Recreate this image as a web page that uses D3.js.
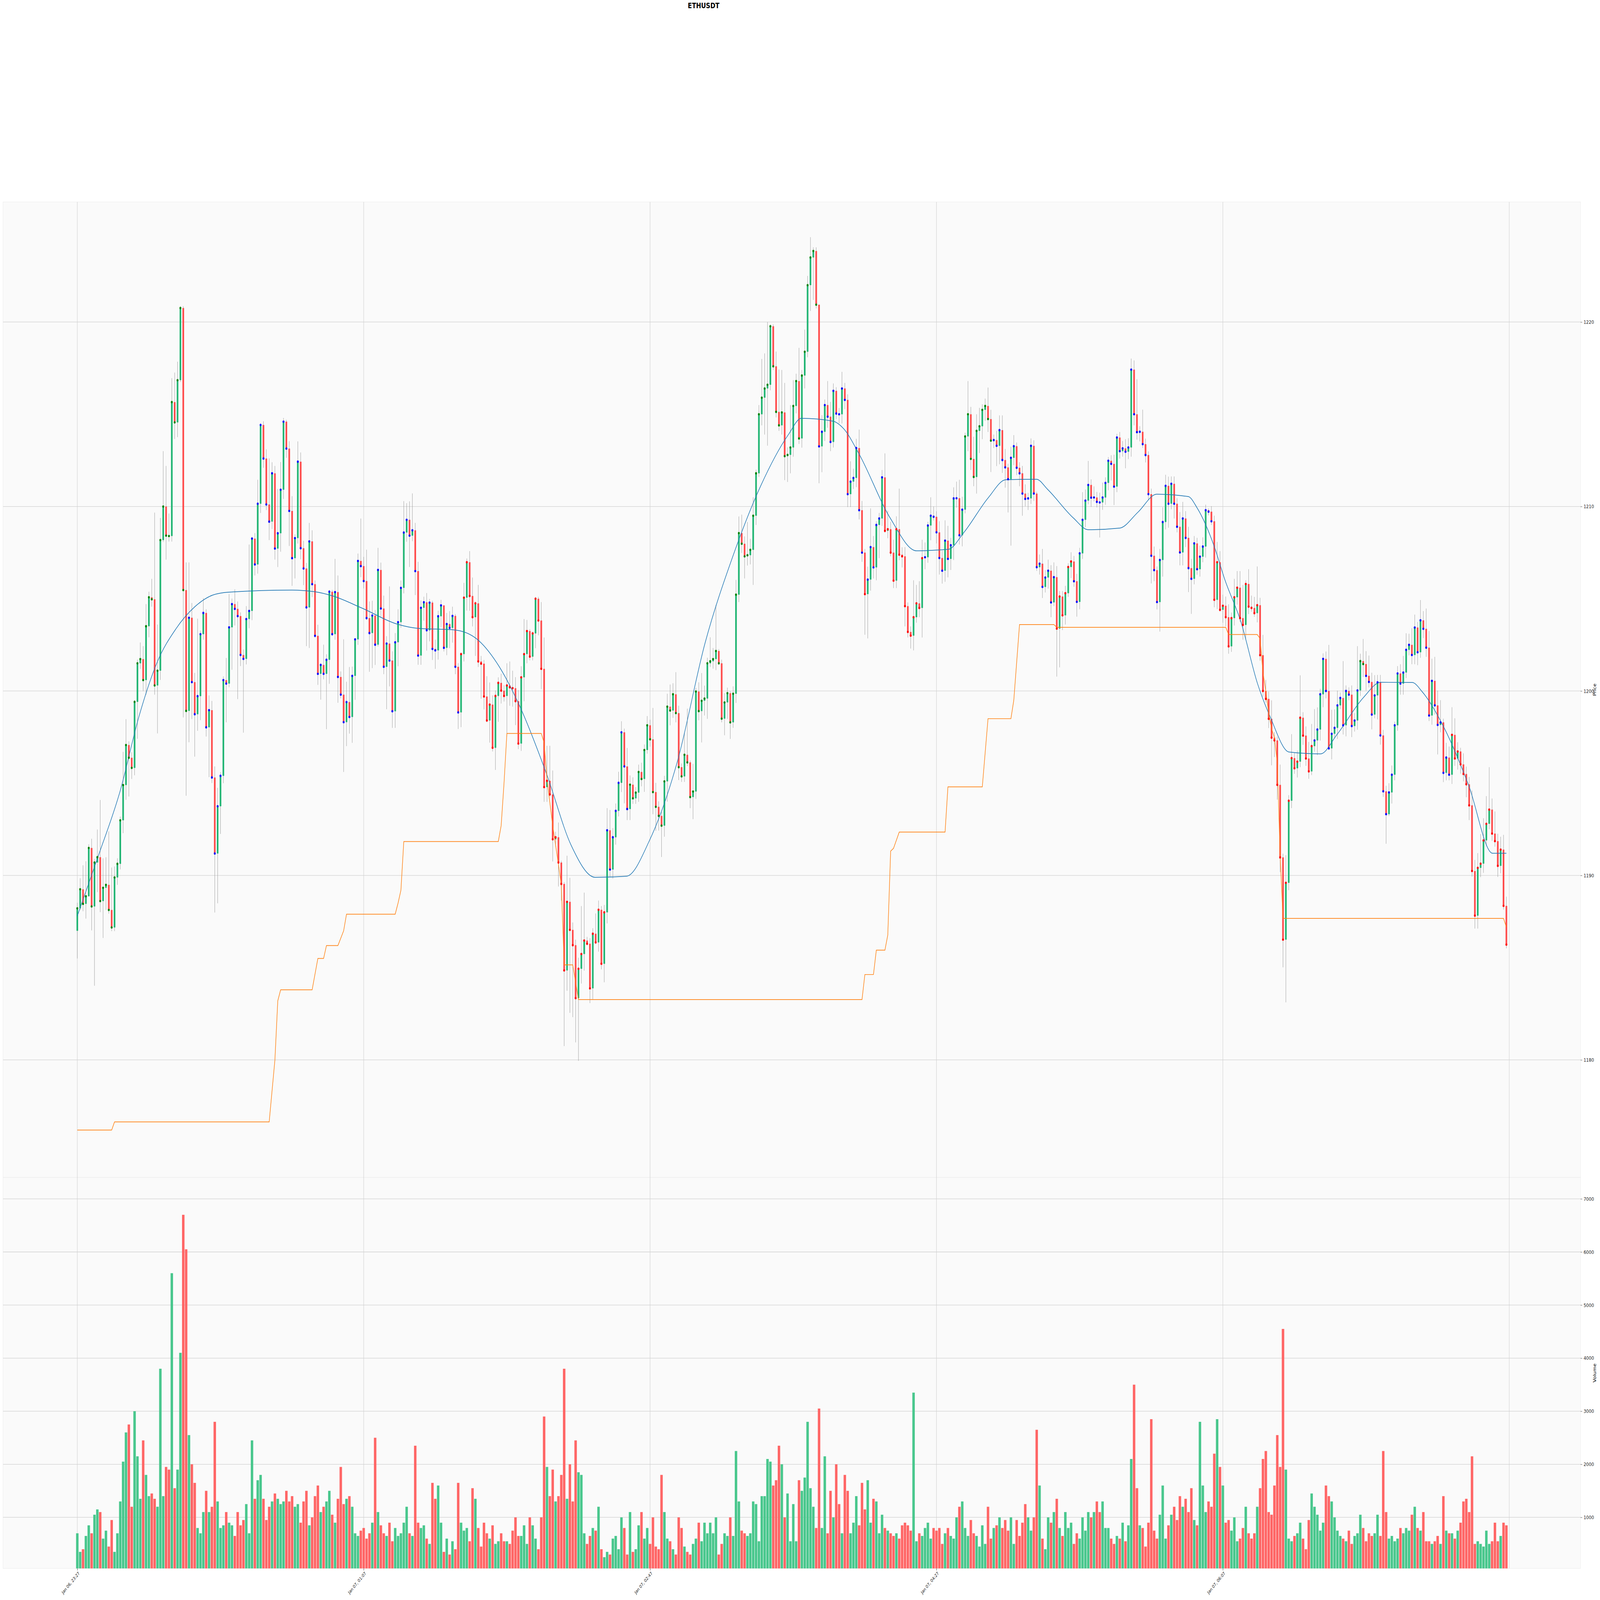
<!DOCTYPE html>
<html><head><meta charset="utf-8">
<script src="https://cdn.jsdelivr.net/npm/d3@7"></script>
<style>html,body{margin:0;padding:0;background:#fff;width:100%;height:100%;overflow:hidden}svg{display:block;font-family:"DejaVu Sans",sans-serif;width:100vw;height:100vh}</style>
</head><body>
<script>
const title = "ETHUSDT";
const firstOpen = 1187.0;
const closes = [
1188.22,1189.25,1188.46,1188.87,1191.49,1188.32,1190.70,1190.99,1188.61,1189.33,
1189.49,1188.13,1187.18,1189.89,1190.63,1192.99,1194.90,1197.07,1196.38,1195.83,
1199.41,1201.50,1201.73,1200.59,1203.51,1205.08,1204.97,1200.30,1201.10,1208.18,
1210.00,1208.42,1208.40,1215.66,1214.56,1216.85,1220.76,1205.47,1198.92,1203.97,
1200.48,1198.74,1199.72,1203.08,1204.23,1198.03,1198.96,1195.31,1191.19,1193.75,
1195.40,1200.59,1200.40,1203.45,1204.71,1204.45,1204.06,1201.95,1201.74,1203.90,
1204.34,1208.26,1206.86,1210.15,1214.42,1212.60,1210.11,1209.18,1211.80,1207.72,
1208.55,1210.91,1214.60,1213.14,1209.76,1207.20,1208.29,1212.43,1207.74,1206.64,
1204.53,1208.11,1205.79,1202.99,1200.93,1201.41,1200.93,1201.69,1205.38,1203.08,
1205.36,1200.76,1199.80,1198.31,1199.40,1198.59,1200.82,1202.80,1207.05,1206.77,
1205.96,1203.95,1203.14,1204.09,1202.51,1206.56,1204.47,1201.31,1202.57,1201.65,
1198.90,1202.64,1203.73,1205.59,1208.59,1209.28,1208.42,1208.71,1206.50,1201.92,
1204.51,1204.81,1203.29,1204.79,1202.28,1202.20,1204.05,1204.64,1202.34,1203.63,
1203.42,1204.07,1201.31,1198.84,1202.00,1205.06,1206.98,1205.15,1204.00,1204.75,
1201.60,1201.48,1199.70,1198.40,1199.26,1196.92,1199.73,1200.44,1200.02,1199.73,
1200.30,1200.20,1200.15,1199.45,1197.15,1200.74,1202.00,1203.25,1201.86,1203.12,
1205.00,1203.82,1201.20,1194.79,1195.13,1194.39,1191.96,1192.07,1190.70,1189.54,
1184.85,1188.57,1187.05,1186.22,1183.35,1184.94,1185.74,1186.47,1186.30,1183.88,
1186.84,1186.37,1188.14,1185.21,1188.00,1192.45,1190.32,1192.07,1193.50,1195.02,
1197.76,1195.91,1193.60,1194.92,1194.18,1194.49,1195.61,1195.23,1196.80,1198.14,
1197.38,1194.52,1193.72,1193.23,1192.70,1195.10,1199.15,1198.94,1199.82,1198.80,
1195.87,1195.37,1196.54,1196.13,1194.25,1194.55,1199.97,1198.91,1199.47,1199.59,
1201.50,1201.61,1201.73,1202.17,1201.50,1198.50,1199.38,1199.88,1198.30,1199.85,
1205.22,1208.56,1207.98,1207.30,1207.36,1207.65,1209.50,1211.80,1215.00,1215.90,
1216.40,1216.60,1219.77,1217.60,1215.13,1214.40,1215.10,1212.73,1212.80,1213.20,
1215.45,1216.80,1213.69,1217.10,1218.39,1222.00,1223.50,1223.85,1220.94,1213.26,
1214.05,1215.50,1214.87,1213.50,1216.27,1215.04,1215.00,1216.40,1215.78,1210.67,
1211.35,1211.55,1213.17,1209.80,1207.50,1205.25,1206.04,1207.80,1206.70,1209.00,
1209.35,1211.58,1208.68,1208.77,1207.50,1205.98,1208.77,1207.39,1207.30,1204.60,
1203.20,1203.00,1204.00,1204.75,1204.50,1207.20,1207.25,1208.97,1209.50,1209.44,
1208.60,1207.21,1206.52,1208.15,1207.16,1207.90,1210.44,1210.45,1208.44,1209.83,
1213.80,1215.00,1212.58,1211.60,1214.10,1214.35,1215.24,1215.45,1214.74,1213.57,
1213.60,1213.29,1214.14,1212.52,1212.12,1211.48,1212.64,1213.27,1212.10,1211.80,
1210.70,1210.41,1210.44,1213.29,1210.70,1206.71,1206.90,1205.64,1206.15,1206.52,
1204.80,1206.17,1203.38,1205.12,1204.10,1205.30,1206.72,1207.02,1205.95,1204.83,
1207.46,1209.28,1210.32,1211.17,1210.48,1210.49,1210.25,1210.22,1210.49,1211.28,
1212.48,1212.31,1211.08,1213.74,1213.00,1213.15,1212.97,1213.20,1217.42,1215.00,
1214.03,1214.05,1213.38,1212.79,1210.67,1207.33,1206.55,1204.82,1207.10,1209.16,
1211.12,1210.15,1211.23,1210.15,1208.90,1207.51,1209.35,1208.30,1206.66,1206.08,
1208.00,1206.60,1207.28,1207.83,1209.80,1209.72,1209.20,1204.94,1206.98,1204.40,
1204.62,1204.00,1202.42,1203.95,1205.08,1205.60,1203.95,1203.58,1205.80,1204.57,
1204.50,1204.22,1204.65,1201.94,1200.00,1199.57,1198.49,1197.47,1197.32,1194.91,
1190.98,1186.52,1189.60,1194.05,1196.36,1195.81,1196.17,1198.55,1197.58,1196.34,
1195.64,1197.01,1197.32,1197.91,1199.82,1201.74,1200.00,1196.89,1197.68,1198.00,
1199.22,1199.62,1198.14,1200.00,1199.80,1198.10,1198.40,1200.03,1201.62,1201.46,
1200.82,1200.49,1198.72,1199.76,1200.47,1197.59,1194.56,1193.32,1194.50,1195.46,
1198.14,1200.95,1200.40,1201.00,1202.23,1202.50,1201.95,1203.44,1202.10,1203.83,
1203.37,1202.35,1198.67,1200.55,1199.22,1198.16,1198.30,1195.56,1196.39,1195.46,
1197.62,1196.34,1196.72,1196.02,1195.50,1194.94,1193.80,1190.24,1187.82,1190.41,
1190.64,1191.90,1192.80,1193.57,1192.27,1191.86,1190.52,1191.40,1188.35,1186.25];
const upperWick = [
0.3,0.6,1.3,1.9,0.2,0.5,0.2,1.5,3.1,1.6, 1.5,2.9,2.3,0.6,0.3,0.2,1.8,1.4,0.2,0.3,
0.1,0.2,0.9,0.7,1.2,0.3,1.0,4.7,2.5,1.2, 3.0,2.2,1.2,1.3,1.6,1.0,0.1,0.1,1.5,3.0,
0.8,0.5,4.2,0.2,0.8,0.2,0.8,0.5,0.6,1.0, 0.2,0.2,1.2,1.8,0.3,0.8,0.4,0.2,0.3,0.7,
3.6,0.1,0.3,1.3,0.1,0.2,0.5,2.5,0.6,0.4, 2.4,1.5,0.2,0.1,0.4,0.8,0.2,1.1,0.5,0.4,
0.3,1.0,0.6,0.2,0.6,0.1,1.1,0.3,0.1,0.1, 1.8,0.9,0.3,3.0,1.1,1.9,0.5,0.0,0.4,2.3,
0.5,1.7,0.9,0.8,0.3,1.2,0.4,0.7,0.4,3.1, 0.5,0.5,0.7,0.4,1.7,0.9,1.0,2.0,0.4,0.5,
0.4,0.3,0.5,0.2,0.1,0.5,0.3,0.3,0.0,0.6, 0.7,0.5,0.1,0.2,0.1,0.8,0.2,0.6,1.0,0.1,
1.0,0.3,0.2,1.1,1.2,0.5,0.3,0.3,0.5,0.3, 1.2,1.3,0.9,0.6,0.6,0.6,1.9,0.6,0.1,0.1,
0.1,0.1,1.0,1.7,1.9,1.9,1.3,0.3,0.8,0.1, 0.1,2.5,1.3,0.4,0.3,0.6,2.6,2.6,0.2,0.3,
0.3,1.1,0.5,0.2,0.4,1.2,1.1,0.5,0.4,0.6, 0.6,0.2,1.0,0.5,0.4,0.3,0.4,0.5,0.3,0.5,
0.3,1.7,0.5,0.3,0.2,0.3,0.7,1.2,0.6,1.2, 0.4,0.2,1.2,2.5,0.1,1.5,0.2,0.5,1.5,0.7,
0.3,1.3,0.6,2.5,0.1,0.2,0.5,0.3,0.1,0.4, 0.8,0.9,1.0,0.4,1.8,0.6,1.0,0.2,0.5,2.1,
1.9,3.4,0.1,0.1,0.8,2.3,2.3,1.6,0.4,2.3, 1.4,0.4,1.8,0.3,1.2,0.5,1.1,0.2,0.2,0.0,
0.9,0.3,1.3,0.8,0.4,0.2,0.3,0.9,0.3,0.3, 1.1,0.5,0.5,1.0,0.5,0.2,0.7,2.1,0.6,0.2,
0.3,0.4,1.3,1.0,0.4,0.7,0.7,2.2,0.4,0.5, 0.2,0.3,2.0,1.0,1.2,1.0,0.8,0.2,1.0,0.5,
0.3,0.6,0.4,1.1,0.8,0.4,0.6,0.9,1.0,0.7, 0.2,1.8,0.4,1.2,0.9,1.0,0.3,0.4,1.0,0.5,
0.3,0.5,0.8,0.8,0.6,0.2,0.6,0.6,0.2,0.3, 0.4,0.5,0.3,0.4,0.3,0.1,0.5,0.8,0.4,0.6,
0.3,0.8,0.6,0.3,0.3,0.4,0.2,0.5,0.3,0.4, 0.3,1.5,0.6,1.3,0.3,0.6,0.3,0.5,0.8,0.3,
0.2,0.3,0.5,0.2,0.3,0.4,0.5,0.5,0.6,0.5, 1.9,0.3,1.2,0.3,0.2,0.3,0.5,0.2,0.6,0.8,
0.6,0.5,0.4,0.4,0.3,0.8,0.9,0.4,0.6,0.5, 0.4,0.3,0.6,0.5,0.3,0.1,0.3,0.3,1.1,0.6,
0.6,0.5,0.7,0.3,1.0,0.9,0.9,1.8,0.2,0.8, 0.6,0.6,2.1,0.4,1.1,0.6,0.4,1.0,0.3,0.2,
1.1,0.2,1.5,0.3,1.3,0.3,0.6,2.3,0.3,0.5, 0.9,1.2,1.7,1.2,0.3,0.3,0.4,2.5,1.3,1.0,
0.8,0.3,2.0,0.3,0.2,0.5,0.4,2.4,0.4,1.2, 0.7,1.1,0.5,1.1,0.4,0.4,0.3,0.3,0.5,0.5,
0.2,0.4,0.5,0.9,0.9,0.6,0.9,0.7,0.3,1.1, 0.5,1.1,0.9,1.2,1.3,0.8,1.2,0.2,0.8,0.6,
1.5,0.9,0.5,0.2,0.6,0.4,0.4,0.8,0.6,0.8, 1.6,1.2,1.5,2.3,0.6,1.2,0.4,0.7,0.8,0.5];
const lowerWick = [
1.5,0.1,0.4,0.8,0.0,1.3,4.3,1.6,0.6,2.0, 1.2,0.2,0.2,0.2,0.4,0.3,0.7,0.8,2.1,0.6,
0.4,2.0,0.3,0.6,0.8,0.6,0.4,0.5,2.6,0.5, 0.1,1.3,0.3,0.3,0.9,0.8,0.1,6.9,4.6,1.7,
2.0,2.3,0.9,1.3,0.3,0.5,2.7,0.3,3.2,2.7, 1.5,0.4,2.1,0.2,2.3,0.9,4.5,0.6,4.0,0.3,
0.5,0.5,0.6,0.5,0.5,0.5,0.3,1.0,0.4,0.6, 1.0,1.0,0.5,0.5,1.9,1.5,1.1,0.3,0.6,0.9,
2.1,2.2,0.7,0.1,0.6,1.4,0.3,3.0,1.3,0.1, 0.3,1.4,0.2,2.7,1.3,0.9,1.4,1.3,0.3,0.6,
0.4,0.1,2.1,1.9,1.1,0.1,0.5,0.4,2.3,1.4, 0.9,0.9,1.3,0.3,0.3,0.5,1.7,0.3,1.3,0.5,
0.5,0.7,1.1,0.6,0.6,1.0,0.5,0.6,0.2,0.4, 1.1,0.8,0.4,0.9,0.8,0.4,0.7,0.8,0.5,2.1,
0.3,1.9,0.7,0.1,1.2,0.2,1.2,1.4,0.7,0.3, 2.2,1.0,1.0,1.3,0.3,0.4,1.3,0.5,0.2,0.2,
0.8,0.8,1.1,0.8,0.8,0.1,1.2,0.4,1.3,0.9, 4.1,1.1,4.5,3.9,2.4,3.4,0.8,0.9,0.1,0.8,
0.6,0.1,0.5,0.3,1.0,0.6,0.4,0.5,0.4,0.3, 0.5,2.0,0.6,0.6,0.3,0.3,0.5,0.4,0.7,0.2,
0.4,1.2,1.3,0.8,1.7,0.6,1.1,0.8,0.4,0.5, 0.7,0.3,0.3,0.2,0.6,1.2,0.4,0.5,1.7,0.8,
1.1,0.2,0.4,0.6,0.1,0.2,0.9,0.9,0.9,0.3, 0.5,0.4,0.5,1.2,0.5,0.5,1.9,0.5,0.2,0.6,
2.0,3.1,0.3,0.2,0.3,0.3,0.5,1.3,1.4,1.0, 0.5,0.4,0.3,0.5,0.7,0.3,1.4,2.3,0.2,2.0,
1.4,0.5,0.6,0.5,0.3,0.3,0.5,0.5,0.5,0.7, 0.7,0.4,0.5,0.5,0.5,2.2,2.4,0.6,0.6,0.7,
1.8,0.4,0.1,0.4,0.2,0.4,0.4,0.3,0.6,1.1, 0.3,0.7,0.8,0.3,0.5,1.6,0.6,0.3,0.8,0.2,
0.6,0.9,0.7,0.6,1.0,0.6,0.8,0.5,0.5,0.6, 0.2,0.8,0.6,0.5,0.9,1.2,0.7,0.6,0.7,1.7,
0.4,1.1,1.0,0.7,1.1,1.8,3.6,0.4,0.4,0.7, 1.2,0.4,0.6,0.3,0.4,0.2,0.4,0.6,0.3,0.6,
0.8,0.2,2.6,2.1,0.8,0.5,0.2,0.6,0.3,0.8, 0.4,0.3,0.4,0.2,0.5,0.2,0.3,1.9,0.4,0.4,
0.4,0.9,1.0,0.3,0.4,0.3,0.9,0.4,0.5,0.6, 0.4,0.5,0.2,0.4,0.3,1.5,0.6,0.4,1.6,0.9,
0.4,1.3,0.3,0.8,0.3,0.7,0.7,0.5,1.3,1.9, 0.3,0.3,0.4,0.3,0.6,0.2,0.2,0.4,0.5,0.1,
0.7,0.5,0.4,0.3,0.4,0.4,0.2,0.8,0.8,0.4, 0.2,0.2,0.5,0.3,0.3,0.2,0.5,1.5,0.9,0.8,
0.8,1.5,3.4,0.4,0.4,0.3,0.5,0.3,0.5,0.4, 0.4,0.2,0.3,0.8,0.6,0.7,0.4,0.1,0.6,0.2,
0.6,0.2,0.5,0.6,0.3,0.6,0.3,0.5,0.3,0.7, 0.8,0.3,0.8,0.2,1.3,0.5,0.3,1.6,0.1,0.6,
0.3,0.3,0.6,0.6,0.3,0.3,0.5,0.5,0.7,0.3, 0.5,0.5,0.3,0.5,0.5,1.6,0.4,0.5,0.4,0.3,
0.5,0.4,0.6,0.5,0.4,0.7,0.8,0.3,0.7,0.7, 0.5,0.5,0.3,0.3,0.4,0.3,0.6,0.4,0.2,0.2];
const volumes = [
700,350,400,650,850,700,1050,1150,1100,600, 750,450,950,350,700,1300,2050,2600,2750,1200,
3000,2150,1350,2450,1800,1400,1450,1350,1200,3800, 1400,1950,1900,5600,1550,1900,4100,6700,6050,2550,
2000,1650,800,700,1100,1500,1100,1200,2800,1300, 800,850,1100,900,850,650,1100,850,950,1250,
700,2450,1350,1700,1800,1350,950,1200,1300,1450, 1350,1250,1300,1500,1300,1400,1200,1250,900,1300,
1500,850,1000,1400,1600,1100,1200,1300,1500,1050, 900,1350,1950,1250,1350,1400,1200,700,650,750,
800,600,700,900,2500,1100,850,700,650,900, 550,800,650,700,900,1200,700,650,2350,900,
800,850,600,500,1650,1350,1600,900,350,600, 300,550,400,1650,900,750,800,550,1550,1350,
800,450,900,700,600,850,500,550,700,550, 550,500,750,1000,650,650,850,500,1000,850,
600,400,1000,2900,1950,1400,1900,1300,1400,1800, 3800,1350,2000,1300,2450,1850,1800,700,500,650,
800,750,1200,400,250,350,300,600,650,400, 1000,800,300,1100,350,400,850,1100,600,800,
500,1000,450,400,1800,1100,600,550,400,300, 1000,800,450,350,300,500,600,900,550,900,
700,900,700,1000,300,500,700,650,1000,650, 2250,1300,750,700,650,700,1300,1250,550,1400,
1400,2100,2050,1600,1700,2350,2000,1000,1450,550, 1250,550,1700,1500,1750,2800,1550,1200,800,3050,
800,2150,700,1500,1000,2000,1250,700,1800,1500, 700,900,1400,850,1650,1150,1700,900,1350,1300,
700,1050,800,750,700,650,700,600,850,900, 850,750,3350,550,700,650,800,900,600,800,
750,800,500,700,800,650,600,1000,1200,1300, 800,650,950,700,650,450,850,500,1200,600,
800,850,1000,800,950,750,1000,500,950,650, 900,1250,1000,750,1000,2650,1600,600,400,1000,
900,1100,1350,800,650,1100,800,900,500,700, 600,1000,750,1100,1000,1100,1300,1100,1300,800,
800,600,500,650,600,900,550,850,2100,3500, 1550,850,800,450,900,2850,750,600,1050,1600,
600,850,1050,1200,950,1400,1200,1350,1100,1550, 950,850,2800,1600,1100,1300,1200,2200,2850,1950,
1600,900,950,750,1000,550,600,800,1200,700, 600,700,1200,1550,2100,2250,1100,1050,1600,2550,
1950,4550,1900,600,550,650,700,900,600,400, 950,1450,1200,1050,750,900,1600,1400,1300,1000,
750,650,600,550,750,500,650,700,1050,800, 550,700,650,700,1050,650,2250,1100,600,650,
550,600,800,700,800,750,1050,1200,800,750, 1100,550,550,500,550,650,500,1400,750,700,
700,600,750,900,1300,1350,1100,2150,500,550, 500,450,750,500,550,900,550,650,900,850];
// marker colour runs: [colour, count]
const markerRuns = [["g",39],["b",95],["r",51],["b",8],["g",66],["b",16],["r",1],["b",6],["r",14],["b",14],["g",10],["b",22],["r",6],["b",49],["r",35],["b",16],["g",2],["b",30],["r",20]];
// smooth trend line knots [index, price]
const trendKnots = [[0,1187.8],[7.2,1191.0],[15,1194.6],[21.5,1198.6],[28,1201.6],[34.4,1203.36],[41,1204.56],[47.3,1205.2],[53,1205.36],[75,1205.47],[83,1205.38],[89.4,1205.14],[99.3,1204.5],[112.2,1203.6],[118.7,1203.4],[131.6,1203.31],[139.4,1202.83],[147.2,1201.35],[154.3,1199.24],[164,1195.44],[172.4,1191.65],[180.8,1189.9],[191.8,1189.96],[199.8,1191.9],[209.5,1196.16],[219.2,1202.6],[228.9,1207.3],[238.6,1211.11],[248.3,1213.9],[252.8,1214.78],[263.8,1214.63],[267.7,1214.2],[272.9,1212.87],[283.9,1209.36],[293,1207.6],[301.2,1207.65],[304.2,1207.68],[309.6,1208.6],[318.1,1210.48],[324.2,1211.45],[334.9,1211.48],[338.8,1210.93],[347.8,1209.38],[353,1208.74],[364,1208.83],[370.4,1209.7],[376.9,1210.67],[387.9,1210.54],[391.1,1209.9],[397,1207.83],[400.7,1206.03],[406.3,1203.75],[412.1,1200.4],[416.6,1198.57],[423.1,1196.69],[434.1,1196.59],[439.9,1197.65],[449,1199.63],[455.1,1200.47],[466.1,1200.46],[469.7,1199.94],[477.4,1197.96],[485.8,1194.9],[494.2,1191.2],[499,1191.2]];
// stepped support line knots [index, price]
const supportKnots = [[0,1176.2],[12,1176.2],[13,1176.64],[67,1176.64],[69,1180],[70,1183.2],[71,1183.8],[82,1183.8],[84,1185.5],[86,1185.5],[87,1186.2],[91,1186.2],[93,1187],[94,1187.9],[111,1187.9],[112,1188.5],[113,1189.2],[114,1191.84],[147,1191.84],[148,1192.7],[149,1195],[150,1197.7],[162,1197.7],[163,1197.2],[164,1195.2],[166,1192.7],[168,1190.6],[169,1189.5],[170,1185.15],[173,1185.15],[175,1183.27],[274,1183.27],[275,1184.63],[278,1184.63],[279,1185.95],[282,1185.95],[283,1186.77],[284,1191.32],[285,1191.47],[287,1192.35],[303,1192.35],[304,1194.8],[316,1194.8],[318,1198.5],[326,1198.5],[327,1199.5],[329,1203.6],[341,1203.6],[342,1203.45],[401,1203.45],[402,1203.06],[412,1203.06],[413,1202.84],[414,1201.0],[415,1200.0],[416,1198.8],[417,1197.96],[418,1197.47],[419,1196.13],[420,1191.1],[421,1187.67],[498,1187.67],[499,1187.2]];
const priceTicks = [1180,1190,1200,1210,1220];
const volumeTicks = [1000,2000,3000,4000,5000,6000,7000];
const xTickIdx = [0,100,200,300,400];
const xTickLabels = ["Jan 06, 23:27","Jan 07, 01:07","Jan 07, 02:47","Jan 07, 04:27","Jan 07, 06:07"];
const xGridIdx = [0,100,200,300,400,500];

const W=5844,H=4714;
const L=11,R=5773,PT=595,PB=3469,VT=3469,VB=4621;
const svg=d3.select("body").append("svg").attr("viewBox",`0 0 ${W} ${H}`).attr("preserveAspectRatio","none");
const x=d3.scaleLinear().domain([-25.94,524.9]).range([L,R]);
const y=d3.scaleLinear().domain([1173.63,1226.51]).range([PB,PT]);
const yv=d3.scaleLinear().domain([38,7404]).range([VB,VT]);

const data=closes.map((c,i)=>{const o=i===0?firstOpen:closes[i-1];return {i,o,c,h:Math.max(o,c)+upperWick[i],l:Math.min(o,c)-lowerWick[i],v:volumes[i]};});
const markerCols=[];markerRuns.forEach(([c,n])=>{for(let k=0;k<n;k++)markerCols.push(c);});
const mcol={g:"#008000",b:"#0000ff",r:"#ff0000"};

svg.append("rect").attr("x",L).attr("y",PT).attr("width",R-L).attr("height",PB-PT).attr("fill","#fafafa").attr("stroke","#e8e8e8");
svg.append("rect").attr("x",L).attr("y",VT).attr("width",R-L).attr("height",VB-VT).attr("fill","#fafafa").attr("stroke","#e8e8e8");

const grid=svg.append("g").attr("stroke","#d0d0d0").attr("stroke-width",1.5);
xGridIdx.forEach(i=>grid.append("line").attr("x1",x(i)).attr("x2",x(i)).attr("y1",PT).attr("y2",VB));
priceTicks.forEach(t=>grid.append("line").attr("x1",L).attr("x2",R).attr("y1",y(t)).attr("y2",y(t)));
volumeTicks.forEach(t=>grid.append("line").attr("x1",L).attr("x2",R).attr("y1",yv(t)).attr("y2",yv(t)));

const fmt=d3.format("d");
const ay=svg.append("g").attr("transform",`translate(${R},0)`).call(d3.axisRight(y).tickValues(priceTicks).tickFormat(fmt).tickSize(6).tickPadding(5));
const av=svg.append("g").attr("transform",`translate(${R},0)`).call(d3.axisRight(yv).tickValues(volumeTicks).tickFormat(fmt).tickSize(6).tickPadding(5));
[ay,av].forEach(a=>{a.select(".domain").remove();a.selectAll("text").attr("font-size",15).attr("fill","#222").attr("font-family","DejaVu Sans");a.selectAll("line").attr("stroke","#222");});
const ax=svg.append("g").attr("transform",`translate(0,${VB})`).call(d3.axisBottom(x).tickValues(xTickIdx).tickFormat((d,k)=>xTickLabels[k]).tickSize(6));
ax.select(".domain").remove();
ax.selectAll("line").attr("stroke","#222");
ax.selectAll("text").attr("font-size",13).attr("fill","#222").attr("font-family","DejaVu Sans").attr("text-anchor","end").attr("y",0).attr("dy","0.35em").attr("transform","translate(6,12) rotate(-45)");

svg.append("text").attr("x",2570).attr("y",24).attr("text-anchor","middle").attr("font-weight","bold").attr("font-size",22).text(title);
svg.append("text").attr("transform",`translate(5830,${(PT+PB)/2}) rotate(-90)`).attr("text-anchor","middle").attr("font-size",15).text("Price");
svg.append("text").attr("transform",`translate(5830,${(VT+VB)/2}) rotate(-90)`).attr("text-anchor","middle").attr("font-size",15).text("Volume");

const up="#21b573",dn="#ff4a4a";
svg.append("g").selectAll("rect").data(data).join("rect")
 .attr("x",d=>x(d.i)-4.5).attr("width",9).attr("y",d=>yv(d.v)).attr("height",d=>VB-yv(d.v))
 .attr("fill",d=>d.c>=d.o?"#49c78d":"#ff6666");
svg.append("g").selectAll("line").data(data).join("line")
 .attr("x1",d=>x(d.i)).attr("x2",d=>x(d.i)).attr("y1",d=>y(d.h)).attr("y2",d=>y(d.l)).attr("stroke","#8a8a8a").attr("stroke-width",1);
svg.append("g").selectAll("rect").data(data).join("rect")
 .attr("x",d=>x(d.i)-3).attr("width",6).attr("y",d=>y(Math.max(d.o,d.c))).attr("height",d=>Math.max(1,Math.abs(y(d.o)-y(d.c))))
 .attr("fill",d=>d.c>=d.o?up:dn);
svg.append("path").attr("d",d3.line().x(d=>x(d[0])).y(d=>y(d[1])).curve(d3.curveMonotoneX)(trendKnots)).attr("fill","none").attr("stroke","#1f77b4").attr("stroke-width",2);
svg.append("path").attr("d",d3.line().x(d=>x(d[0])).y(d=>y(d[1]))(supportKnots)).attr("fill","none").attr("stroke","#ff7f0e").attr("stroke-width",2);
svg.append("g").selectAll("circle").data(data).join("circle")
 .attr("cx",d=>x(d.i)).attr("cy",d=>y(d.c)).attr("r",3.5).attr("fill",d=>mcol[markerCols[d.i]]);
</script>
</body></html>
